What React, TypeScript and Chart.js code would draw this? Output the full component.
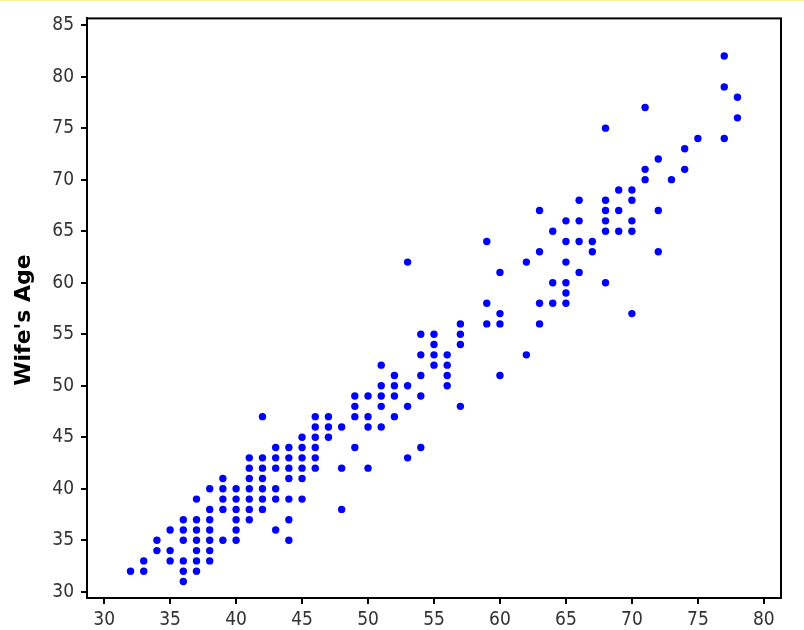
import React, { useEffect, useRef } from "react";
import { Chart, registerables } from "chart.js";

Chart.register(...registerables);

// Husband's age (x) and wife's age (y)
const husbandAge = [
  32,
  33, 33,
  34, 34,
  35, 35, 35,
  36, 36, 36, 36, 36, 36,
  37, 37, 37, 37, 37, 37, 37,
  38, 38, 38, 38, 38, 38, 38,
  39, 39, 39, 39, 39,
  40, 40, 40, 40, 40, 40,
  41, 41, 41, 41, 41, 41, 41,
  42, 42, 42, 42, 42, 42, 42,
  43, 43, 43, 43, 43, 43,
  44, 44, 44, 44, 44, 44, 44,
  45, 45, 45, 45, 45, 45,
  46, 46, 46, 46, 46, 46,
  47, 47, 47,
  48, 48, 48,
  49, 49, 49, 49,
  50, 50, 50, 50,
  51, 51, 51, 51, 51,
  52, 52, 52, 52,
  53, 53, 53, 53,
  54, 54, 54, 54, 54,
  55, 55, 55, 55,
  56, 56, 56, 56,
  57, 57, 57, 57,
  59, 59, 59,
  60, 60, 60, 60,
  62, 62,
  63, 63, 63, 63,
  64, 64, 64,
  65, 65, 65, 65, 65, 65,
  66, 66, 66, 66,
  67, 67,
  68, 68, 68, 68, 68, 68,
  69, 69, 69,
  70, 70, 70, 70, 70,
  71, 71, 71,
  72, 72, 72,
  73,
  74, 74,
  75,
  77, 77, 77,
  78, 78,
];

const wifeAge = [
  32,
  33, 32,
  35, 34,
  36, 34, 33,
  37, 36, 35, 33, 32, 31,
  39, 37, 36, 35, 34, 33, 32,
  40, 38, 37, 36, 35, 34, 33,
  41, 40, 39, 38, 35,
  40, 39, 38, 37, 36, 35,
  43, 42, 41, 40, 39, 38, 37,
  47, 43, 42, 41, 40, 39, 38,
  44, 43, 42, 40, 39, 36,
  44, 43, 42, 41, 39, 37, 35,
  45, 44, 43, 42, 41, 39,
  47, 46, 45, 44, 43, 42,
  47, 46, 45,
  46, 42, 38,
  49, 48, 47, 44,
  49, 47, 46, 42,
  52, 50, 49, 48, 46,
  51, 50, 49, 47,
  62, 50, 48, 43,
  55, 53, 51, 49, 44,
  55, 54, 53, 52,
  53, 52, 51, 50,
  56, 55, 54, 48,
  64, 58, 56,
  61, 57, 56, 51,
  62, 53,
  67, 63, 58, 56,
  65, 60, 58,
  66, 64, 62, 60, 59, 58,
  68, 66, 64, 61,
  64, 63,
  75, 68, 67, 66, 65, 60,
  69, 67, 65,
  69, 68, 66, 65, 57,
  77, 71, 70,
  72, 67, 63,
  70,
  73, 71,
  74,
  82, 79, 74,
  78, 76,
];

const xTicks = [30, 35, 40, 45, 50, 55, 60, 65, 70, 75, 80];
const yTicks = [30, 35, 40, 45, 50, 55, 60, 65, 70, 75, 80, 85];
const yTitle = "Wife's Age";

const TICK_FONT = '"DejaVu Sans Condensed", "Liberation Sans Narrow", "DejaVu Sans", sans-serif';

export default function App() {
  const canvasRef = useRef<HTMLCanvasElement | null>(null);

  useEffect(() => {
    if (!canvasRef.current) return;
    const points = husbandAge.map((x, i) => ({ x, y: wifeAge[i] }));

    const framePlugin = {
      id: "frameAndTitle",
      afterDraw(chart: any) {
        const { ctx, chartArea } = chart;
        ctx.save();
        ctx.strokeStyle = "#000";
        ctx.lineWidth = 2;
        ctx.strokeRect(
          chartArea.left,
          chartArea.top,
          chartArea.right - chartArea.left,
          chartArea.bottom - chartArea.top
        );
        ctx.translate(24, 320);
        ctx.rotate(-Math.PI / 2);
        ctx.fillStyle = "#000";
        ctx.font = 'bold 22px "DejaVu Sans", sans-serif';
        ctx.textAlign = "center";
        ctx.textBaseline = "middle";
        ctx.fillText(yTitle, 0, 0);
        ctx.restore();
      },
    };

    const chart = new Chart(canvasRef.current, {
      type: "scatter",
      data: {
        datasets: [
          {
            data: points,
            backgroundColor: "#0000ff",
            borderColor: "#0000ff",
            borderWidth: 0,
            pointRadius: 3.7,
            pointHoverRadius: 3.7,
          },
        ],
      },
      options: {
        responsive: false,
        animation: false,
        events: [],
        layout: { padding: { left: 0, top: 16, right: 23, bottom: 0 } },
        plugins: {
          legend: { display: false },
          tooltip: { enabled: false },
          title: { display: false },
        },
        scales: {
          x: {
            type: "linear",
            min: 28.7,
            max: 81.3,
            afterBuildTicks: (s: any) => {
              s.ticks = xTicks.map((v) => ({ value: v }));
            },
            afterFit: (s: any) => {
              s.height = 32;
            },
            grid: {
              display: true,
              drawOnChartArea: false,
              drawTicks: true,
              tickLength: 6,
              color: "#000",
              lineWidth: 2,
            },
            border: { display: true, color: "#000", width: 2 },
            ticks: {
              autoSkip: false,
              maxRotation: 0,
              padding: 5,
              color: "#333",
              font: { family: TICK_FONT, size: 19 },
            },
          },
          y: {
            type: "linear",
            min: 29.4,
            max: 85.65,
            afterBuildTicks: (s: any) => {
              s.ticks = yTicks.map((v) => ({ value: v }));
            },
            afterFit: (s: any) => {
              s.width = 87;
            },
            grid: {
              display: true,
              drawOnChartArea: false,
              drawTicks: true,
              tickLength: 6,
              color: "#000",
              lineWidth: 2,
            },
            border: { display: true, color: "#000", width: 2 },
            ticks: {
              autoSkip: false,
              padding: 7,
              color: "#333",
              font: { family: TICK_FONT, size: 19 },
            },
          },
        },
      },
      plugins: [framePlugin],
    });

    return () => chart.destroy();
  }, []);

  return (
    <div style={{ position: "absolute", left: 0, top: 0, width: 804, height: 630, background: "#fff" }}>
      <div style={{ position: "absolute", left: 0, top: 0, width: 804, height: 1, background: "#f8f3a6" }} />
      <canvas ref={canvasRef} width={804} height={630} style={{ display: "block" }} />
    </div>
  );
}
